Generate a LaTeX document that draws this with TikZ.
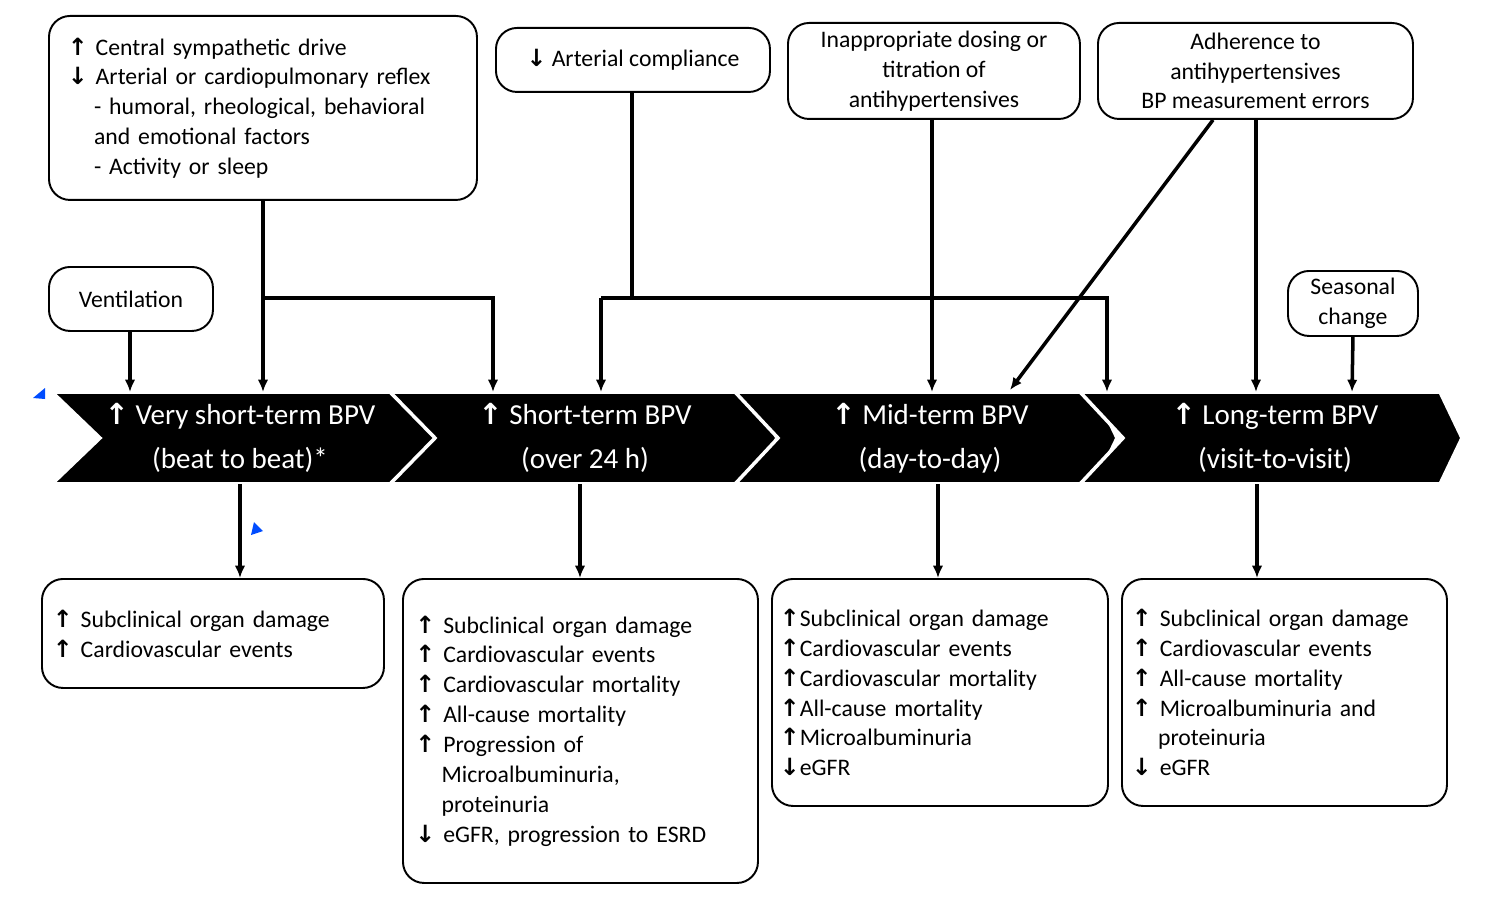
\documentclass[tikz,border=0pt]{standalone}
\usepackage{fontspec}
\setmainfont{Carlito}
\newfontfamily\symfont{DejaVu Sans}
\usetikzlibrary{arrows.meta}
\newcommand{\up}{{\symfont\bfseries ↑}}
\newcommand{\dn}{{\symfont\bfseries ↓}}
\begin{document}
\begin{tikzpicture}[x=0.02cm, y=-0.02cm,
  box/.style={draw, line width=1.1pt, rounded corners=12pt, anchor=north west, inner sep=0pt,
    font=\fontsize{13.5}{17}\selectfont, align=left},
  sbox/.style={box, align=center},
  link/.style={line width=2pt},
  arr/.style={link, -{Latex[length=7pt,width=6pt]}},
  chev/.style={fill=black, draw=white, line width=2pt},
  ctext/.style={text=white, align=center, font=\fontsize{16.5}{25}\selectfont}]
\useasboundingbox (0,0) rectangle (1500,902);

% influencing factors
\node[box, minimum width=428*0.02cm, minimum height=184*0.02cm, text width=390*0.02cm] (drive) at (48,15)
  {\up\ Central sympathetic drive\\ \dn\ Arterial or cardiopulmonary reflex\\
   \hspace*{1.1em}- humoral, rheological, behavioral\\ \hspace*{1.1em}and emotional factors\\ \hspace*{1.1em}- Activity or sleep};
\node[sbox, minimum width=274*0.02cm, minimum height=64*0.02cm] (compl) at (495,27) {\dn\ Arterial compliance};
\node[sbox, minimum width=292*0.02cm, minimum height=96*0.02cm] (dosing) at (787,22) {Inappropriate dosing or\\ titration of\\ antihypertensives};
\node[sbox, minimum width=315*0.02cm, minimum height=96*0.02cm] (adher) at (1097,22) {Adherence to\\ antihypertensives\\ BP measurement errors};
\node[sbox, minimum width=164*0.02cm, minimum height=64*0.02cm] (vent) at (48,266) {Ventilation};
\node[sbox, minimum width=130*0.02cm, minimum height=65*0.02cm] (season) at (1287,270) {Seasonal\\ change};

% chevrons
\draw[chev] (52,392) -- (420,392) -- (442,438) -- (420,484) -- (52,484) -- (100,438) -- cycle;
\draw[chev] (390,392) -- (755,392) -- (777,438) -- (755,484) -- (390,484) -- (435,438) -- cycle;
\draw[chev] (735,392) -- (1095,392) -- (1117,438) -- (1095,484) -- (735,484) -- (778,438) -- cycle;
\draw[chev] (1080,392) -- (1440,392) -- (1462,438) -- (1440,484) -- (1080,484) -- (1123,438) -- cycle;
\node[ctext] (vst) at (240,438) {\up\ Very short-term BPV\\ (beat to beat)*};
\node[ctext] (st) at (585,438) {\up\ Short-term BPV\\ (over 24 h)};
\node[ctext] (mt) at (930,438) {\up\ Mid-term BPV\\ (day-to-day)};
\node[ctext] (lt) at (1275,438) {\up\ Long-term BPV\\ (visit-to-visit)};
\fill[blue!70!cyan] (33,398) -- (45,388) -- (45,399) -- cycle;
\fill[blue!70!cyan] (251,535) -- (263,531) -- (254,522) -- cycle;

% outcomes
\node[box, minimum width=342*0.02cm, minimum height=109*0.02cm, text width=320*0.02cm] (out1) at (41,578)
  {\up\ Subclinical organ damage\\ \up\ Cardiovascular events};
\node[box, minimum width=355*0.02cm, minimum height=304*0.02cm, text width=330*0.02cm] (out2) at (402,578)
  {\up\ Subclinical organ damage\\ \up\ Cardiovascular events\\ \up\ Cardiovascular mortality\\ \up\ All-cause mortality\\
   \up\ Progression of\\ \hspace*{1.1em}Microalbuminuria,\\ \hspace*{1.1em}proteinuria\\ \dn\ eGFR, progression to ESRD};
\node[box, minimum width=336*0.02cm, minimum height=227*0.02cm, text width=320*0.02cm] (out3) at (771,578)
  {\up Subclinical organ damage\\ \up Cardiovascular events\\ \up Cardiovascular mortality\\ \up All-cause mortality\\
   \up Microalbuminuria\\ \dn eGFR};
\node[box, minimum width=325*0.02cm, minimum height=227*0.02cm, text width=305*0.02cm] (out4) at (1121,578)
  {\up\ Subclinical organ damage\\ \up\ Cardiovascular events\\ \up\ All-cause mortality\\ \up\ Microalbuminuria and\\
   \hspace*{1.1em}proteinuria\\ \dn\ eGFR};

% connectors
\coordinate (j1) at (263,298);
\coordinate (j2) at (632,298);
\draw[arr] (vent.south -| 130,0) -- (130,392);
\draw[arr] (drive.south -| j1) -- (263,392);
\draw[arr] (j1) -- (493,298) -- (493,392);
\draw[link] (compl.south -| j2) -- (j2);
\draw[arr] (601,298) -- (601,392);
\draw[arr] (601,298) -- (1107,298) -- (1107,392);
\draw[arr] (dosing.south -| 932,0) -- (932,392);
\draw[arr] (adher.south -| 1213,0) -- (1010,390);
\draw[arr] (adher.south -| 1256,0) -- (1256,392);
\draw[arr] (season.south) -- (1352,392);
\draw[arr] (240,484) -- (out1.north -| 240,0);
\draw[arr] (580,484) -- (out2.north -| 580,0);
\draw[arr] (938,484) -- (out3.north -| 938,0);
\draw[arr] (1257,484) -- (out4.north -| 1257,0);
\end{tikzpicture}
\end{document}
